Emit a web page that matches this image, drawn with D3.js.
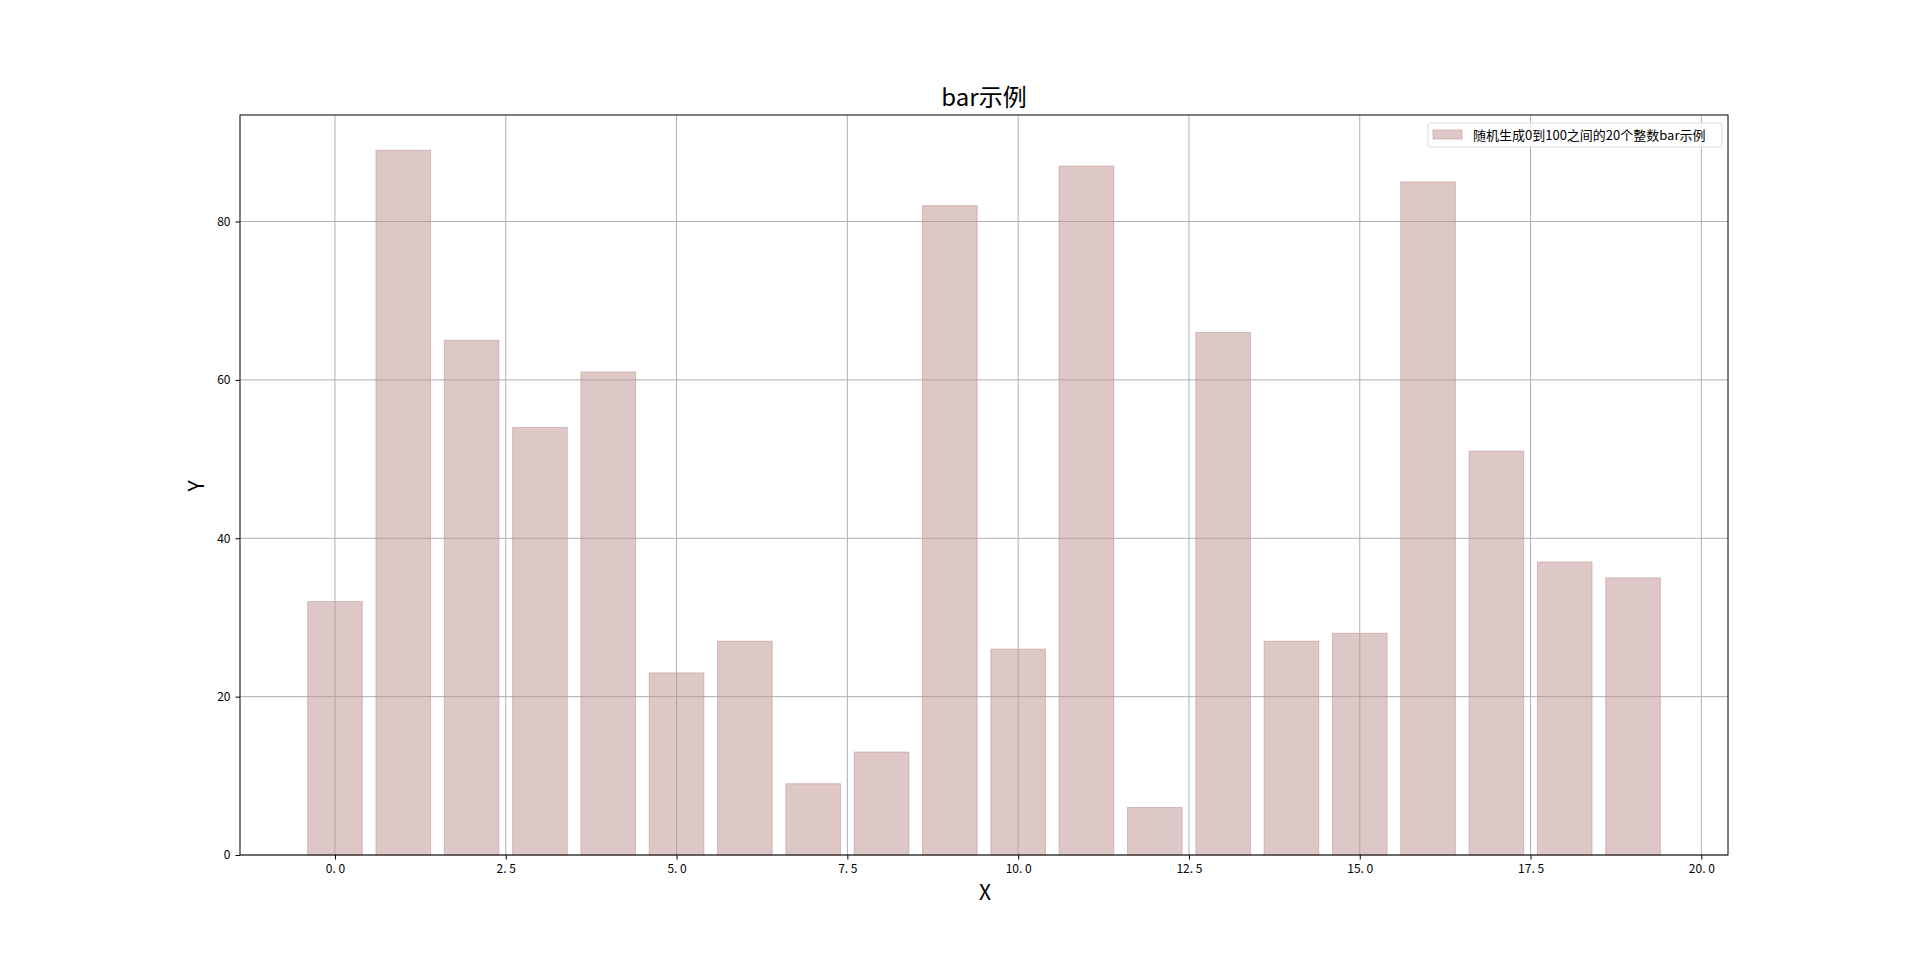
<!DOCTYPE html>
<html><head><meta charset="utf-8">
<script src="https://cdn.jsdelivr.net/npm/d3@7"></script>
<style>body{margin:0;background:#fff}svg{display:block}text{font-family:"Noto Sans CJK SC","DejaVu Sans",sans-serif}</style>
</head><body>
<script>
const categories = d3.range(20);
const values = [32, 89, 65, 54, 61, 23, 27, 9, 13, 82, 26, 87, 6, 66, 27, 28, 85, 51, 37, 35];
const xTicks = [0, 2.5, 5, 7.5, 10, 12.5, 15, 17.5, 20];
const yTicks = [0, 20, 40, 60, 80];
const title = "bar示例";
const legendLabel = "随机生成0到100之间的20个整数bar示例";

const W = 1920, H = 961;
const L = 240, R = 1728, T = 115, B = 855;
const svg = d3.select("body").append("svg").attr("width", W).attr("height", H);

const x = d3.scaleLinear().domain([-1.39, 20.39]).range([L, R]);
const y = d3.scaleLinear().domain([0, 93.45]).range([B, T]);

// grid
const g = svg.append("g");
g.selectAll(".gx").data(xTicks).join("line")
  .attr("x1", d => x(d)).attr("x2", d => x(d)).attr("y1", T).attr("y2", B)
  .attr("stroke", "#b0b0b0").attr("stroke-width", 1);
g.selectAll(".gy").data(yTicks).join("line")
  .attr("x1", L).attr("x2", R).attr("y1", d => y(d)).attr("y2", d => y(d))
  .attr("stroke", "#b0b0b0").attr("stroke-width", 1);

// bars
svg.append("g").selectAll("rect").data(categories).join("rect")
  .attr("x", i => x(i - 0.4)).attr("width", x(0.8) - x(0))
  .attr("y", i => y(values[i])).attr("height", i => y(0) - y(values[i]))
  .attr("fill", "rosybrown").attr("fill-opacity", 0.5)
  .attr("stroke", "rosybrown").attr("stroke-opacity", 0.5).attr("stroke-width", 1);

// axes
const fmt = d => d3.format(".1f")(d).replace(".", ". ");
const xa = svg.append("g").attr("transform", `translate(0,${B})`)
  .call(d3.axisBottom(x).tickValues(xTicks).tickSize(4.5).tickPadding(5).tickFormat(fmt));
const ya = svg.append("g").attr("transform", `translate(${L},0)`)
  .call(d3.axisLeft(y).tickValues(yTicks).tickSize(4.5).tickPadding(5).tickFormat(d3.format("d")));
[xa, ya].forEach(a => {
  a.select(".domain").remove();
  a.selectAll("text").attr("font-size", 12).attr("fill", "#000").style("font-family", '"Noto Sans CJK SC",sans-serif');
  a.selectAll("line").attr("stroke", "#000");
});
svg.append("rect").attr("x", L).attr("y", T).attr("width", R - L).attr("height", B - T)
  .attr("fill", "none").attr("stroke", "#000").attr("stroke-width", 1);

// labels
svg.append("text").attr("x", (L + R) / 2).attr("y", 106).attr("text-anchor", "middle")
  .attr("font-size", 24).text(title);
svg.append("text").attr("x", 985).attr("y", 900).attr("text-anchor", "middle")
  .attr("font-size", 21).text("X");
svg.append("text").attr("transform", "translate(204,486) rotate(-90)").attr("text-anchor", "middle")
  .attr("font-size", 21).text("Y");

// legend
const lg = svg.append("g");
lg.append("rect").attr("x", 1428).attr("y", 123).attr("width", 294).attr("height", 24).attr("rx", 3)
  .attr("fill", "#fff").attr("fill-opacity", 0.8).attr("stroke", "#d9d9d9");
lg.append("rect").attr("x", 1433).attr("y", 130).attr("width", 29).attr("height", 9)
  .attr("fill", "rosybrown").attr("fill-opacity", 0.5).attr("stroke", "rosybrown").attr("stroke-opacity", 0.5);
lg.append("text").attr("x", 1473).attr("y", 139.5).attr("font-size", 13).text(legendLabel);
</script>
</body></html>
